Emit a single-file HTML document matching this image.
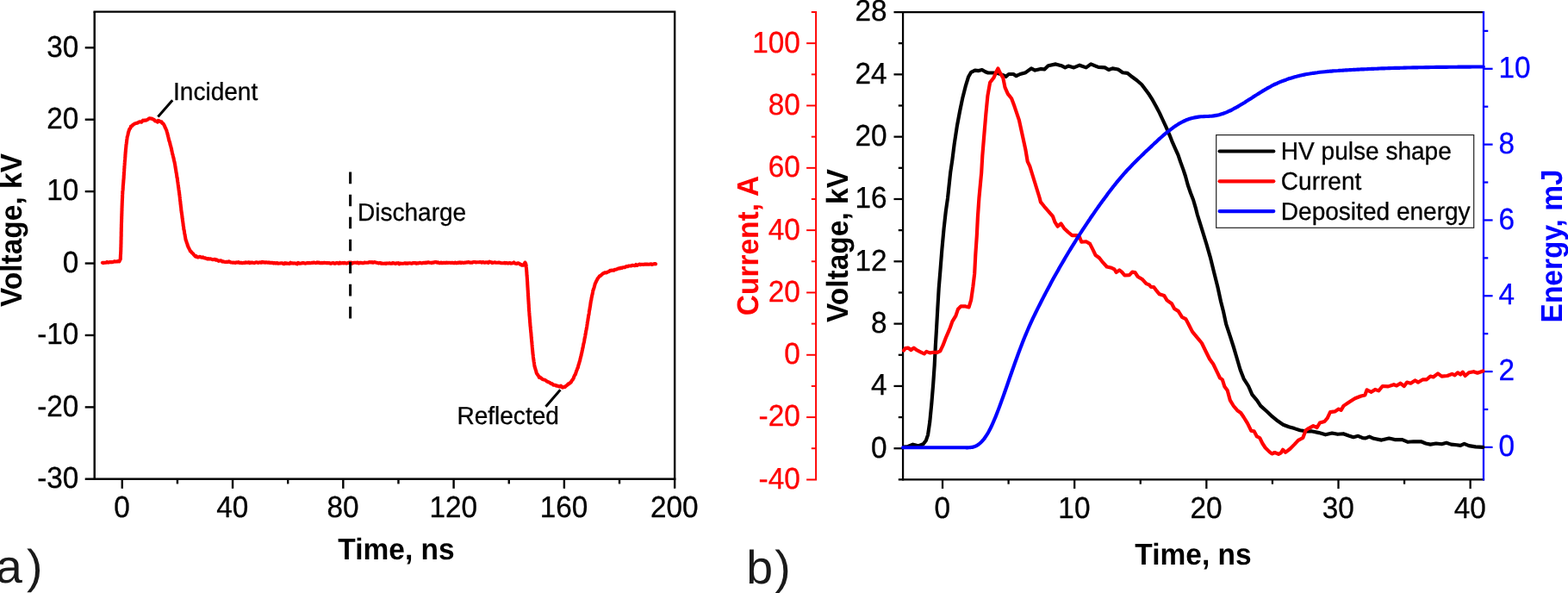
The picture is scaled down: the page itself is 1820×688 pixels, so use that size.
<!DOCTYPE html>
<html lang="en"><head><meta charset="utf-8"><title>Voltage, current and deposited energy waveforms</title>
<style>
html,body{margin:0;padding:0;background:#fff;}
body{width:1820px;height:688px;overflow:hidden;}
svg{display:block;}
text{font-family:"Liberation Sans", sans-serif;text-rendering:geometricPrecision;}
.tk{font-size:33.33px;stroke-width:0.3;stroke-linejoin:round;}
.ti{font-size:33.5px;font-weight:bold;}
.an{font-size:28.05px;stroke-width:0.3;stroke-linejoin:round;}
.pl{font-size:55.5px;fill:#1a1a1a;}
.ax{fill:none;stroke-linecap:butt;}
.cv{fill:none;stroke-linejoin:round;stroke-linecap:round;}
</style></head><body>
<svg width="1820" height="688" viewBox="0 0 1820 688" role="img" aria-label="Voltage, current and deposited energy waveforms">
<rect x="0" y="0" width="1820" height="688" fill="#ffffff"/>
<g id="panel-a">
<polyline class="cv" stroke="#ff0000" stroke-width="4.1" points="118.9,304.8 120.0,305.1 121.1,304.8 122.2,304.8 123.2,304.7 124.3,303.9 125.4,304.6 126.5,304.4 127.6,304.0 128.7,304.1 129.8,304.3 130.9,303.9 132.0,303.7 133.1,303.2 134.1,303.6 135.2,303.4 136.3,303.4 137.4,302.8 138.4,303.4 139.0,302.1 139.6,301.0 139.8,300.7 139.8,298.9 139.9,297.4 139.9,296.6 140.0,294.9 140.1,294.9 140.1,293.3 140.2,292.1 140.2,291.6 140.3,289.6 140.3,289.2 140.3,287.3 140.4,286.6 140.4,285.4 140.4,285.1 140.4,284.1 140.5,282.3 140.5,281.6 140.5,280.2 140.5,279.3 140.6,277.8 140.6,276.4 140.6,275.3 140.6,274.9 140.7,274.3 140.7,272.6 140.7,271.3 140.7,270.9 140.7,269.3 140.8,268.2 140.8,267.1 140.8,265.9 140.8,264.7 140.9,263.3 140.9,262.8 140.9,261.5 140.9,260.8 141.0,259.2 141.0,257.7 141.1,257.1 141.1,256.6 141.1,254.8 141.2,253.6 141.2,252.4 141.2,251.3 141.3,250.5 141.3,249.1 141.3,248.8 141.4,247.2 141.4,246.2 141.4,245.5 141.5,244.4 141.5,242.8 141.5,241.9 141.6,240.9 141.6,239.5 141.7,237.9 141.7,237.6 141.7,236.5 141.8,235.3 141.8,233.8 141.9,232.9 141.9,231.7 142.0,230.7 142.0,230.1 142.1,229.0 142.1,227.7 142.1,226.5 142.2,225.5 142.3,224.2 142.3,223.0 142.4,221.8 142.5,220.9 142.6,220.5 142.7,219.0 142.8,217.5 142.8,216.3 142.9,215.1 143.0,214.4 143.1,213.3 143.2,211.7 143.3,211.2 143.3,209.7 143.4,209.3 143.5,207.8 143.6,207.2 143.7,205.4 143.7,204.3 143.8,203.4 143.9,202.6 143.9,201.3 144.0,199.6 144.1,199.0 144.2,197.8 144.2,196.6 144.3,195.4 144.4,195.1 144.4,193.3 144.5,192.1 144.6,191.5 144.7,190.2 144.7,189.0 144.8,188.2 144.9,187.0 145.0,185.9 145.1,185.0 145.2,183.7 145.3,182.3 145.4,181.3 145.4,180.1 145.5,179.3 145.6,177.8 145.7,176.4 145.8,175.9 145.9,174.4 146.0,173.1 146.1,172.7 146.2,171.3 146.3,170.6 146.4,169.2 146.5,167.9 146.7,166.8 146.8,165.9 147.0,164.9 147.1,163.6 147.2,162.7 147.4,161.2 147.5,160.6 147.7,159.0 147.8,158.4 148.1,157.6 148.4,156.6 148.6,155.8 148.9,153.7 149.2,153.3 149.4,152.4 149.8,151.3 150.3,149.7 150.8,149.2 151.4,148.7 151.9,146.7 152.5,146.4 153.4,146.0 154.3,144.8 155.2,144.5 156.1,143.5 157.2,143.2 158.2,142.9 159.3,142.8 160.2,142.1 161.1,141.8 162.1,141.2 163.2,141.5 164.2,141.6 165.1,140.8 166.0,139.6 167.0,139.9 168.1,139.6 169.2,139.8 170.1,139.2 171.1,139.0 172.1,138.2 173.2,137.4 174.3,137.3 175.3,137.7 176.4,137.6 177.4,138.3 178.3,138.7 179.1,139.1 180.0,140.4 180.9,140.4 181.8,140.6 182.8,141.7 183.7,139.9 184.7,140.2 185.7,140.9 186.6,141.2 187.5,141.2 188.2,142.9 188.9,143.0 189.7,143.8 190.4,145.0 191.0,146.2 191.4,147.1 191.8,148.3 192.3,148.9 192.7,150.0 193.1,150.7 193.5,152.0 193.8,153.3 194.1,154.1 194.4,155.4 194.6,156.1 194.9,157.2 195.2,158.5 195.5,159.5 195.7,160.8 196.0,161.7 196.3,163.3 196.6,163.7 196.9,164.8 197.2,165.6 197.4,167.0 197.7,168.2 198.0,168.9 198.3,170.1 198.6,171.4 198.8,172.2 199.1,173.2 199.3,174.7 199.6,175.5 199.8,176.7 200.1,178.0 200.3,179.1 200.6,179.7 200.8,180.7 201.1,182.0 201.3,183.0 201.6,183.5 201.8,185.5 202.1,186.2 202.3,187.5 202.6,188.0 202.8,189.8 203.0,190.3 203.2,191.6 203.3,192.2 203.5,193.7 203.7,194.8 203.9,195.9 204.1,197.2 204.3,198.1 204.4,199.5 204.6,200.1 204.8,201.1 205.0,202.4 205.2,203.7 205.3,205.0 205.5,206.0 205.7,206.2 205.9,208.0 206.0,209.4 206.2,210.1 206.3,211.0 206.5,212.3 206.6,213.2 206.8,214.6 206.9,215.5 207.1,217.0 207.2,217.8 207.4,218.5 207.5,220.0 207.7,221.2 207.8,221.9 207.9,223.0 208.1,223.5 208.2,225.6 208.4,226.2 208.5,226.8 208.6,228.0 208.8,229.6 208.9,231.0 209.0,231.8 209.1,233.1 209.3,233.7 209.4,234.7 209.5,236.5 209.7,237.5 209.8,238.4 209.9,239.9 210.1,240.3 210.2,241.6 210.3,243.1 210.4,244.5 210.6,245.0 210.7,246.6 210.9,247.0 211.0,248.3 211.2,249.3 211.3,249.9 211.4,251.6 211.6,252.9 211.7,253.7 211.9,254.8 212.0,256.3 212.1,256.6 212.3,257.6 212.4,258.9 212.6,259.9 212.7,261.8 212.9,262.5 213.1,263.2 213.2,264.4 213.4,266.6 213.6,266.6 213.8,267.6 214.0,269.0 214.1,270.2 214.3,271.2 214.5,271.9 214.7,272.9 214.9,274.5 215.1,275.4 215.2,276.0 215.5,278.0 215.8,278.9 216.2,279.6 216.5,280.7 216.8,281.9 217.2,282.6 217.5,283.5 217.8,285.0 218.2,285.5 218.6,287.1 219.1,287.5 219.7,288.9 220.3,289.8 220.8,291.3 221.4,291.4 222.0,292.2 222.7,293.2 223.5,293.8 224.4,294.7 225.2,295.8 226.0,296.6 226.9,297.6 227.9,297.2 229.0,298.5 230.0,298.5 231.1,298.1 232.2,297.7 233.2,298.6 234.3,298.8 235.4,298.3 236.5,299.3 237.6,299.4 238.6,299.4 239.7,300.1 240.8,300.4 241.9,300.1 243.0,300.5 244.1,300.4 245.1,300.5 246.2,301.0 247.3,301.3 248.4,301.1 249.5,300.7 250.6,301.8 251.7,301.4 252.7,302.1 253.8,302.9 254.9,302.5 256.0,302.4 257.0,302.5 258.1,303.6 259.2,303.4 260.3,303.8 261.4,304.0 262.5,303.9 263.6,303.9 264.6,303.9 265.7,303.3 266.8,303.9 267.9,304.5 269.0,304.5 270.1,304.7 271.2,304.6 272.3,304.7 273.4,304.9 274.5,304.4 275.6,304.6 276.7,304.1 277.8,305.0 278.9,304.7 280.0,304.8 281.1,305.2 282.2,305.0 283.3,304.7 284.4,304.9 285.5,304.3 286.6,304.8 287.7,304.7 288.8,304.2 289.9,305.1 291.0,304.5 292.1,304.9 293.2,304.5 294.3,305.0 295.4,305.1 296.5,304.4 297.6,304.2 298.7,304.6 299.8,304.9 300.9,304.5 302.0,304.4 303.1,304.8 304.2,303.8 305.3,304.4 306.4,304.2 307.5,304.7 308.6,304.4 309.7,304.4 310.8,304.7 311.9,304.4 313.0,304.9 314.1,304.7 315.2,304.9 316.3,304.8 317.4,305.4 318.5,305.1 319.6,305.4 320.7,305.4 321.8,305.1 322.9,305.6 324.0,305.5 325.1,305.5 326.2,305.3 327.3,305.3 328.4,305.7 329.5,306.2 330.6,305.2 331.7,305.7 332.8,305.4 333.9,305.8 335.0,305.7 336.1,305.9 337.2,304.7 338.3,305.4 339.4,305.3 340.5,305.6 341.6,305.4 342.7,305.5 343.8,305.9 344.9,306.3 346.0,304.8 347.1,305.5 348.2,305.7 349.3,305.5 350.4,305.4 351.5,305.0 352.6,305.1 353.7,305.5 354.8,305.6 355.9,305.3 357.0,304.9 358.1,305.2 359.2,305.0 360.3,305.2 361.4,305.0 362.5,304.7 363.6,304.9 364.7,304.5 365.8,305.0 366.9,305.1 368.0,304.4 369.1,304.9 370.2,304.5 371.3,305.2 372.4,305.2 373.5,304.9 374.6,305.3 375.7,304.9 376.8,304.9 377.9,305.0 379.0,305.1 380.1,305.1 381.2,305.3 382.3,305.1 383.4,305.6 384.5,305.7 385.6,305.2 386.7,304.9 387.8,305.6 388.9,305.7 390.0,305.3 391.1,304.9 392.2,305.4 393.3,305.8 394.4,304.7 395.5,305.4 396.6,305.2 397.7,305.0 398.8,305.4 399.9,304.8 401.0,305.3 402.1,305.6 403.2,305.3 404.3,304.9 405.4,304.6 406.5,304.8 407.6,304.6 408.7,305.6 409.8,305.0 410.9,304.8 412.0,304.7 413.1,304.7 414.2,304.9 415.3,304.6 416.4,305.5 417.5,304.7 418.6,304.7 419.7,305.0 420.8,305.3 421.9,305.2 423.0,304.6 424.1,304.8 425.1,304.7 426.2,304.8 427.3,304.7 428.4,304.3 429.5,304.1 430.6,304.5 431.7,304.0 432.8,304.8 433.9,304.3 435.0,304.1 436.1,304.5 437.2,304.7 438.3,305.0 439.4,305.5 440.4,305.0 441.5,305.0 442.6,305.8 443.7,305.6 444.8,305.7 445.9,305.8 447.0,305.6 448.1,305.9 449.2,305.4 450.3,305.6 451.4,305.4 452.5,305.3 453.6,305.8 454.7,305.8 455.8,305.0 456.9,305.2 458.0,305.6 459.1,305.9 460.2,305.3 461.3,305.5 462.4,305.1 463.5,306.3 464.6,305.6 465.7,305.8 466.8,305.7 467.9,305.8 469.0,305.6 470.1,305.3 471.2,305.7 472.3,305.4 473.4,305.8 474.5,305.2 475.6,305.2 476.7,305.5 477.8,305.7 478.9,305.3 480.0,305.0 481.1,305.1 482.2,305.0 483.3,305.7 484.4,305.3 485.5,305.4 486.6,305.1 487.7,304.8 488.8,305.3 489.9,305.4 491.0,305.0 492.1,304.8 493.2,305.1 494.3,304.6 495.4,304.9 496.5,304.4 497.6,304.3 498.7,304.8 499.8,304.7 500.9,305.2 502.0,304.6 503.1,304.7 504.2,304.3 505.3,304.1 506.4,304.1 507.5,304.8 508.6,304.3 509.7,305.1 510.8,305.2 511.9,304.6 513.0,305.3 514.1,304.8 515.2,305.1 516.3,304.7 517.4,305.1 518.5,304.5 519.6,305.0 520.7,304.7 521.8,304.8 522.9,305.0 524.0,304.9 525.1,304.8 526.2,305.1 527.3,305.1 528.4,304.5 529.5,305.1 530.6,305.1 531.7,304.6 532.8,304.9 533.9,304.4 535.0,305.2 536.1,304.6 537.2,304.7 538.3,305.0 539.4,304.6 540.5,304.8 541.6,304.2 542.7,304.4 543.8,304.1 544.9,304.4 546.0,304.8 547.1,304.5 548.2,304.6 549.3,304.0 550.4,304.0 551.5,304.1 552.6,304.4 553.7,304.3 554.8,304.2 555.9,304.3 557.0,304.1 558.1,304.1 559.2,304.6 560.3,304.0 561.4,304.3 562.5,304.8 563.6,304.3 564.7,304.5 565.8,304.2 566.9,305.0 568.0,303.7 569.1,304.1 570.2,304.2 571.3,305.0 572.4,304.7 573.5,304.5 574.6,304.3 575.7,304.8 576.8,304.8 577.9,304.7 579.0,304.5 580.1,304.7 581.2,305.2 582.3,305.3 583.4,305.3 584.5,305.3 585.6,304.8 586.6,305.4 587.7,305.0 588.8,305.4 589.9,305.5 591.0,305.1 592.1,305.0 593.2,305.6 594.3,305.4 595.4,305.1 596.5,304.4 597.6,305.4 598.7,305.7 599.8,305.9 600.9,305.3 602.0,305.4 603.0,306.0 603.9,307.0 604.9,306.9 605.8,307.8 606.8,307.5 607.9,307.6 608.4,306.1 608.9,305.7 609.4,304.5 609.9,305.3 610.4,306.5 610.6,307.7 610.7,308.0 610.8,309.9 610.9,310.8 611.0,311.7 611.1,313.3 611.2,314.0 611.3,315.5 611.4,316.0 611.4,317.0 611.5,318.7 611.6,320.1 611.7,320.7 611.8,321.9 611.8,322.6 611.9,323.4 612.0,324.9 612.0,326.5 612.1,326.5 612.2,328.1 612.2,328.7 612.3,330.5 612.4,331.8 612.4,332.2 612.5,333.6 612.6,335.2 612.6,335.9 612.7,336.6 612.8,337.7 612.8,338.6 612.9,340.5 613.0,341.2 613.0,342.8 613.1,343.9 613.2,344.5 613.2,345.6 613.3,347.1 613.4,348.0 613.4,349.2 613.5,349.7 613.6,351.6 613.6,352.1 613.7,352.8 613.8,354.4 613.8,355.8 613.9,357.4 614.0,357.8 614.0,358.6 614.1,360.7 614.2,361.2 614.3,362.2 614.4,363.0 614.4,364.1 614.5,366.0 614.6,366.6 614.7,367.6 614.8,368.7 614.9,370.4 615.0,370.8 615.1,372.3 615.1,373.3 615.2,374.4 615.3,375.1 615.4,376.7 615.5,378.1 615.6,378.7 615.7,379.5 615.8,380.5 615.9,382.0 616.0,383.0 616.1,384.1 616.2,385.3 616.3,385.9 616.5,387.7 616.5,388.6 616.6,389.6 616.7,390.8 616.8,392.1 616.9,393.0 617.0,393.8 617.1,395.5 617.2,396.1 617.3,397.1 617.4,397.9 617.5,399.5 617.6,400.3 617.7,401.6 617.8,402.9 617.9,403.9 618.0,405.3 618.1,406.2 618.2,407.1 618.3,408.2 618.4,409.2 618.5,410.7 618.7,411.6 618.8,412.5 618.9,414.0 619.0,414.9 619.1,415.8 619.3,416.6 619.5,418.2 619.6,419.3 619.8,420.3 620.0,421.2 620.1,422.2 620.3,423.5 620.4,424.7 620.7,425.7 621.0,426.7 621.3,427.7 621.7,429.0 622.0,430.0 622.3,430.7 622.6,432.3 623.0,433.3 623.6,434.2 624.2,434.9 624.7,435.8 625.3,436.4 625.9,437.9 626.9,437.6 627.8,438.7 628.8,439.2 629.7,440.1 630.7,440.4 631.7,440.6 632.7,440.9 633.7,441.6 634.7,442.4 635.6,442.8 636.6,443.3 637.6,443.6 638.6,444.3 639.6,445.1 640.6,445.0 641.5,445.8 642.5,446.8 643.6,446.8 644.6,446.9 645.6,447.7 646.6,447.6 647.7,447.9 648.8,448.4 649.9,448.6 651.0,447.6 652.0,448.8 653.0,449.6 654.0,449.3 655.0,449.0 655.9,448.9 656.9,447.7 657.8,447.3 658.7,446.5 659.6,445.3 660.5,445.4 661.3,444.5 662.0,444.0 662.7,443.5 663.4,442.2 664.1,441.1 664.8,440.5 665.3,439.4 665.8,438.7 666.3,436.9 666.8,436.0 667.3,434.8 667.8,434.6 668.2,433.4 668.5,432.2 668.9,431.1 669.3,430.1 669.7,429.0 670.0,428.1 670.4,427.1 670.8,426.6 671.1,425.2 671.4,423.8 671.7,422.8 672.0,422.3 672.3,421.0 672.6,419.9 672.9,419.0 673.2,418.2 673.5,416.3 673.8,415.4 674.1,414.0 674.3,413.6 674.6,412.3 674.8,411.1 675.0,410.0 675.3,409.4 675.5,408.1 675.7,406.9 676.0,406.3 676.2,404.5 676.4,403.4 676.6,403.5 676.9,401.5 677.1,400.4 677.3,399.3 677.5,398.4 677.8,397.6 678.0,396.5 678.2,395.4 678.4,394.0 678.6,392.6 678.8,392.0 679.0,391.3 679.2,390.1 679.4,388.6 679.6,387.9 679.8,386.4 680.0,385.4 680.2,384.0 680.4,383.2 680.6,382.2 680.8,381.1 681.0,380.3 681.1,379.5 681.3,378.3 681.5,376.7 681.7,375.5 681.8,374.4 682.0,373.2 682.2,372.4 682.4,371.5 682.5,370.3 682.7,369.2 682.9,368.1 683.0,367.0 683.2,365.7 683.4,365.4 683.6,364.1 683.8,362.4 683.9,361.3 684.1,360.3 684.3,359.4 684.5,358.7 684.6,357.5 684.8,356.5 685.0,355.4 685.2,354.3 685.3,353.1 685.5,351.9 685.7,350.7 685.9,349.1 686.1,348.5 686.3,348.0 686.5,346.2 686.7,345.1 686.9,344.5 687.1,343.2 687.4,341.9 687.6,341.5 687.8,340.1 688.0,339.1 688.2,337.6 688.5,336.9 688.8,335.8 689.2,334.8 689.5,333.9 689.8,332.8 690.1,331.5 690.4,330.6 690.8,329.0 691.1,328.5 691.6,327.5 692.2,326.2 692.7,325.1 693.2,324.4 693.7,323.1 694.2,322.6 694.9,321.7 695.7,320.6 696.5,320.1 697.3,319.7 698.1,318.9 698.9,318.2 699.9,317.4 700.9,316.9 701.9,316.4 703.0,316.3 704.0,316.4 705.0,315.7 706.0,315.3 707.1,315.0 708.1,313.8 709.2,313.9 710.3,313.6 711.3,313.8 712.4,313.7 713.4,312.7 714.5,312.7 715.6,312.5 716.6,311.9 717.7,311.6 718.8,311.2 719.8,311.4 720.9,310.6 721.9,310.9 723.0,310.3 724.1,310.2 725.1,310.3 726.2,309.4 727.3,309.1 728.4,309.3 729.4,308.6 730.5,308.5 731.6,308.5 732.7,308.4 733.8,307.8 734.9,307.9 736.0,308.1 737.1,308.2 738.1,307.0 739.2,307.9 740.3,307.6 741.4,306.9 742.5,306.6 743.6,307.1 744.7,306.8 745.8,306.8 746.9,307.0 748.0,306.5 749.1,306.6 750.2,306.6 751.3,306.6 752.4,306.8 753.5,306.8 754.6,306.4 755.7,306.2 756.8,307.0 757.9,306.5 759.0,306.4 760.1,306.0 761.0,306.3"/>
<line x1="406.6" y1="199.6" x2="406.6" y2="369.5" stroke="#000" stroke-width="3" stroke-dasharray="13.65 12.38"/>
<line x1="183.4" y1="135.4" x2="200.2" y2="116.2" stroke="#000" stroke-width="3.0"/>
<line x1="633.5" y1="471.8" x2="650.4" y2="452.2" stroke="#000" stroke-width="3.0"/>
<g class="ax" stroke="#000" stroke-width="2.4">
<path d="M108.50 13.60 H783.15 V566.80"/>
<path d="M109.70 13.60 V557.00"/>
<path d="M98.70 555.80 H784.35"/>
<path d="M98.70 55.31 H109.70"/>
<path d="M98.70 138.72 H109.70"/>
<path d="M98.70 222.14 H109.70"/>
<path d="M98.70 305.55 H109.70"/>
<path d="M98.70 388.97 H109.70"/>
<path d="M98.70 472.38 H109.70"/>
<path d="M141.77 555.80 V566.80"/>
<path d="M270.05 555.80 V566.80"/>
<path d="M398.32 555.80 V566.80"/>
<path d="M526.60 555.80 V566.80"/>
<path d="M654.87 555.80 V566.80"/>
<path d="M205.91 555.80 V561.40"/>
<path d="M334.18 555.80 V561.40"/>
<path d="M462.46 555.80 V561.40"/>
<path d="M590.74 555.80 V561.40"/>
<path d="M719.01 555.80 V561.40"/>
</g>
<g class="tk" fill="#000">
<text class="tk" transform="translate(91.30 65.61) scale(1 1.042)" text-anchor="end" stroke="#000">30</text>
<text class="tk" transform="translate(91.30 149.02) scale(1 1.042)" text-anchor="end" stroke="#000">20</text>
<text class="tk" transform="translate(91.30 232.44) scale(1 1.042)" text-anchor="end" stroke="#000">10</text>
<text class="tk" transform="translate(91.30 315.85) scale(1 1.042)" text-anchor="end" stroke="#000">0</text>
<text class="tk" transform="translate(91.30 399.27) scale(1 1.042)" text-anchor="end" stroke="#000">-10</text>
<text class="tk" transform="translate(91.30 482.68) scale(1 1.042)" text-anchor="end" stroke="#000">-20</text>
<text class="tk" transform="translate(91.30 566.10) scale(1 1.042)" text-anchor="end" stroke="#000">-30</text>
<text class="tk" transform="translate(141.47 600.40) scale(1 1.042)" text-anchor="middle" stroke="#000">0</text>
<text class="tk" transform="translate(269.75 600.40) scale(1 1.042)" text-anchor="middle" stroke="#000">40</text>
<text class="tk" transform="translate(398.02 600.40) scale(1 1.042)" text-anchor="middle" stroke="#000">80</text>
<text class="tk" transform="translate(526.30 600.40) scale(1 1.042)" text-anchor="middle" stroke="#000">120</text>
<text class="tk" transform="translate(654.57 600.40) scale(1 1.042)" text-anchor="middle" stroke="#000">160</text>
<text class="tk" transform="translate(782.85 600.40) scale(1 1.042)" text-anchor="middle" stroke="#000">200</text>
</g>
<text class="ti" transform="translate(460.00 649.10) scale(1 1.045)" text-anchor="middle">Time, ns</text>
<text class="ti" transform="translate(25.00 267.00) rotate(-90) scale(1 1.045)" text-anchor="middle">Voltage, kV</text>
<text class="an" transform="translate(201.00 116.00) scale(1 1.03)" stroke="#000">Incident</text>
<text class="an" transform="translate(414.90 256.10) scale(1 1.03)" stroke="#000">Discharge</text>
<text class="an" transform="translate(530.40 492.30) scale(1 1.03)" stroke="#000">Reflected</text>
<text class="pl" transform="translate(-5.00 675.80) scale(1 0.98)">a<tspan dx="5.0">)</tspan></text>
</g>
<g id="panel-b">
<g class="ax" stroke="#000" stroke-width="2.25">
<path d="M1037.47 14.04 H1721.97"/>
<path d="M1048.07 14.04 V557.52"/>
<path d="M1042.77 556.40 H1723.10"/>
<path d="M1037.47 520.24 H1048.07"/>
<path d="M1037.47 447.93 H1048.07"/>
<path d="M1037.47 375.61 H1048.07"/>
<path d="M1037.47 303.30 H1048.07"/>
<path d="M1037.47 230.98 H1048.07"/>
<path d="M1037.47 158.67 H1048.07"/>
<path d="M1037.47 86.35 H1048.07"/>
<path d="M1042.77 484.09 H1048.07"/>
<path d="M1042.77 411.77 H1048.07"/>
<path d="M1042.77 339.46 H1048.07"/>
<path d="M1042.77 267.14 H1048.07"/>
<path d="M1042.77 194.83 H1048.07"/>
<path d="M1042.77 122.51 H1048.07"/>
<path d="M1042.77 50.20 H1048.07"/>
<path d="M1094.02 556.40 V567.00"/>
<path d="M1247.18 556.40 V567.00"/>
<path d="M1400.34 556.40 V567.00"/>
<path d="M1553.50 556.40 V567.00"/>
<path d="M1706.65 556.40 V567.00"/>
<path d="M1170.60 556.40 V561.70"/>
<path d="M1323.76 556.40 V561.70"/>
<path d="M1476.92 556.40 V561.70"/>
<path d="M1630.07 556.40 V561.70"/>
</g>
<g class="ax" stroke="#0000ff" stroke-width="2.25">
<path d="M1721.97 12.91 V557.52"/>
<path d="M1721.97 518.90 H1732.57"/>
<path d="M1721.97 431.08 H1732.57"/>
<path d="M1721.97 343.26 H1732.57"/>
<path d="M1721.97 255.44 H1732.57"/>
<path d="M1721.97 167.62 H1732.57"/>
<path d="M1721.97 79.80 H1732.57"/>
<path d="M1721.97 474.99 H1727.27"/>
<path d="M1721.97 387.17 H1727.27"/>
<path d="M1721.97 299.35 H1727.27"/>
<path d="M1721.97 211.53 H1727.27"/>
<path d="M1721.97 123.71 H1727.27"/>
<path d="M1721.97 35.89 H1727.27"/>
</g>
<g class="ax" stroke="#ff0000" stroke-width="1.95">
<path d="M941.80 14.04 H947.10 V556.40 H936.10"/>
<path d="M936.10 484.09 H947.10"/>
<path d="M936.10 411.77 H947.10"/>
<path d="M936.10 339.46 H947.10"/>
<path d="M936.10 267.14 H947.10"/>
<path d="M936.10 194.83 H947.10"/>
<path d="M936.10 122.51 H947.10"/>
<path d="M936.10 50.20 H947.10"/>
<path d="M941.80 520.24 H947.10"/>
<path d="M941.80 447.93 H947.10"/>
<path d="M941.80 375.61 H947.10"/>
<path d="M941.80 303.30 H947.10"/>
<path d="M941.80 230.98 H947.10"/>
<path d="M941.80 158.67 H947.10"/>
<path d="M941.80 86.35 H947.10"/>
</g>
<polyline class="cv" stroke="#000" stroke-width="4.15" points="1049.0,518.5 1054.0,518.0 1059.6,515.7 1064.0,516.8 1067.0,517.0 1071.6,515.2 1074.9,510.9 1077.1,504.3 1079.3,489.1 1081.4,467.2 1083.2,445.4 1084.7,423.6 1085.8,401.8 1087.1,380.0 1088.4,356.5 1089.7,334.7 1091.5,312.9 1093.4,288.9 1095.6,264.9 1097.8,245.3 1100.0,230.0 1103.2,200.0 1105.4,185.2 1107.6,167.8 1110.9,146.0 1114.2,128.5 1117.4,113.2 1120.7,100.2 1124.0,89.3 1127.2,83.8 1131.6,81.6 1136.0,82.1 1139.9,81.0 1143.6,83.2 1146.9,84.5 1153.4,84.5 1158.9,85.3 1164.3,87.1 1167.6,88.8 1170.9,86.0 1176.3,86.0 1179.6,88.2 1184.0,86.0 1190.5,84.2 1197.0,79.4 1201.4,81.6 1207.9,79.9 1212.3,80.5 1216.7,76.2 1225.4,74.4 1231.9,76.2 1236.3,78.4 1240.0,76.6 1246.5,78.4 1253.1,75.7 1260.7,78.4 1266.2,74.4 1274.9,77.9 1282.5,78.4 1286.9,81.0 1291.3,79.4 1297.8,80.5 1303.2,84.2 1308.7,84.9 1314.2,89.3 1319.6,93.2 1325.1,98.0 1330.0,104.6 1333.9,109.8 1337.9,116.2 1341.8,123.2 1345.7,130.6 1349.6,139.0 1353.6,147.6 1357.5,156.6 1360.9,165.2 1364.1,172.4 1367.4,179.7 1370.2,187.9 1373.4,196.6 1376.0,204.5 1378.7,214.5 1381.9,223.7 1385.1,232.0 1387.7,240.8 1389.8,249.0 1394.9,265.4 1400.3,282.9 1404.7,298.1 1409.0,315.6 1413.4,333.0 1417.1,350.0 1419.9,360.9 1423.2,376.2 1427.6,389.3 1431.8,402.5 1435.5,415.0 1439.6,429.0 1443.6,439.3 1449.1,448.0 1453.4,457.8 1458.9,464.3 1463.2,470.9 1469.8,476.8 1476.3,482.9 1482.9,488.3 1489.4,492.7 1496.0,495.3 1502.5,497.1 1509.0,499.2 1515.6,500.3 1522.1,500.3 1530.9,502.1 1538.5,504.3 1546.1,502.5 1552.7,503.8 1559.2,503.2 1565.5,505.5 1570.9,507.2 1576.4,505.8 1581.8,508.2 1585.1,508.4 1589.5,506.6 1594.5,508.8 1603.6,510.6 1612.3,508.6 1618.9,510.1 1627.6,510.1 1634.2,512.8 1640.7,512.3 1649.4,512.3 1654.9,514.5 1660.3,515.6 1666.9,514.5 1673.4,515.2 1678.9,513.8 1684.3,515.6 1690.9,516.2 1695.2,516.9 1699.6,514.9 1705.0,517.1 1712.7,518.4 1721.4,518.9"/>
<polyline class="cv" stroke="#ff0000" stroke-width="4.15" points="1049.0,406.6 1050.9,404.0 1054.2,403.6 1057.4,406.2 1060.7,403.6 1064.0,406.2 1068.4,408.4 1072.7,410.5 1075.3,407.9 1079.3,409.4 1083.6,408.8 1088.0,408.8 1091.3,407.3 1094.5,400.7 1097.8,392.0 1101.1,384.4 1102.9,380.0 1105.4,372.9 1109.4,366.3 1112.0,358.7 1115.2,355.4 1120.7,355.4 1124.6,356.5 1127.2,347.8 1129.4,332.5 1131.2,317.2 1132.3,295.4 1133.8,273.6 1134.9,251.8 1136.4,230.0 1139.2,200.0 1140.3,180.9 1142.1,159.0 1144.3,132.9 1146.4,111.1 1149.1,95.8 1153.4,90.3 1156.7,82.7 1158.4,79.4 1161.0,84.9 1164.3,90.3 1166.5,101.3 1169.8,108.9 1174.1,114.3 1177.4,123.1 1182.9,139.4 1187.2,159.0 1190.5,174.3 1192.7,187.4 1195.3,192.9 1197.5,200.0 1206.8,230.0 1207.9,234.4 1212.3,239.8 1216.7,244.8 1222.1,251.2 1224.3,257.3 1227.6,262.7 1231.5,259.4 1235.2,264.9 1240.0,269.5 1244.4,273.1 1249.8,273.1 1253.1,275.2 1255.3,280.7 1260.7,280.3 1265.1,282.9 1268.4,289.4 1271.6,296.0 1276.0,299.2 1280.3,304.7 1284.7,309.5 1290.2,310.8 1293.4,312.3 1295.6,316.0 1299.3,313.4 1302.2,315.6 1305.4,319.5 1310.9,319.1 1314.2,315.6 1317.4,316.0 1320.7,321.0 1326.2,324.3 1330.5,329.1 1333.8,330.4 1336.0,333.0 1339.2,333.0 1342.5,337.4 1345.8,341.3 1351.2,342.9 1354.5,348.3 1357.5,350.5 1360.0,352.2 1363.2,358.3 1367.6,360.9 1372.0,367.9 1376.3,370.1 1379.6,376.2 1384.0,384.9 1389.4,391.4 1394.9,398.0 1399.5,407.5 1404.0,416.5 1408.3,422.5 1412.7,431.7 1416.0,438.5 1418.8,440.4 1421.4,448.6 1424.7,453.0 1427.8,464.4 1431.8,471.0 1436.2,476.2 1440.2,479.0 1443.6,484.0 1448.0,491.2 1452.3,499.9 1455.6,500.3 1458.9,506.4 1462.2,508.0 1465.4,514.5 1468.7,519.5 1473.1,523.9 1476.3,526.5 1479.6,525.0 1484.0,526.9 1486.8,525.4 1489.0,521.7 1492.0,524.8 1497.1,521.0 1502.5,515.6 1506.9,510.8 1512.3,508.0 1515.6,499.2 1518.9,497.1 1524.3,494.2 1528.7,496.0 1532.0,490.5 1537.4,489.0 1540.7,485.1 1544.0,478.1 1549.4,477.4 1553.8,474.6 1556.6,475.9 1559.5,470.9 1566.0,466.5 1572.7,462.2 1579.8,459.5 1584.3,458.5 1586.6,452.3 1591.7,454.8 1596.1,451.9 1600.2,453.4 1604.7,448.0 1611.3,448.4 1617.8,446.2 1621.1,447.5 1625.4,444.7 1629.8,448.0 1633.1,443.6 1637.4,444.7 1642.4,441.4 1646.2,443.6 1651.6,440.3 1656.0,440.3 1660.3,436.6 1663.6,437.5 1669.0,433.4 1673.4,436.6 1680.0,436.0 1685.4,433.8 1688.7,435.3 1692.0,432.3 1695.2,434.5 1697.8,431.6 1700.7,436.0 1705.0,432.3 1710.5,431.2 1714.9,432.7 1721.4,430.5"/>
<path class="cv" stroke="#0000ff" stroke-width="4.15" d="M1048.1 519.2 C1059.8 519.2 1105.8 519.2 1118.0 519.2 C1130.2 519.2 1120.0 519.2 1121.0 519.3 C1122.0 519.3 1123.0 519.3 1124.0 519.3 C1125.0 519.2 1126.0 519.2 1127.0 519.0 C1128.0 518.9 1129.0 518.7 1130.0 518.4 C1131.0 518.1 1132.0 517.8 1133.0 517.3 C1134.0 516.8 1135.0 516.2 1136.0 515.5 C1137.0 514.7 1138.0 513.9 1139.0 512.9 C1140.0 511.9 1141.0 510.8 1142.0 509.5 C1143.0 508.2 1144.0 506.8 1145.0 505.2 C1146.0 503.7 1147.0 502.0 1148.0 500.1 C1149.0 498.3 1150.0 496.3 1151.0 494.1 C1152.0 492.0 1153.0 489.7 1154.0 487.3 C1155.0 485.0 1156.0 482.5 1157.0 479.9 C1158.0 477.4 1159.0 474.8 1160.0 472.1 C1161.0 469.4 1162.0 466.7 1163.0 463.9 C1164.0 461.2 1165.0 458.3 1166.0 455.5 C1167.0 452.7 1168.0 449.8 1169.0 447.0 C1170.0 444.1 1171.0 441.2 1172.0 438.3 C1173.0 435.5 1174.0 432.6 1175.0 429.7 C1176.0 426.9 1177.0 424.1 1178.0 421.3 C1179.0 418.5 1180.0 415.7 1181.0 413.0 C1182.0 410.2 1183.0 407.6 1184.0 404.9 C1185.0 402.3 1186.0 399.7 1187.0 397.1 C1188.0 394.6 1189.0 392.1 1190.0 389.6 C1191.0 387.2 1192.0 384.8 1193.0 382.5 C1194.0 380.2 1195.0 377.9 1196.0 375.7 C1197.0 373.5 1198.0 371.4 1199.0 369.2 C1200.0 367.1 1201.0 365.1 1202.0 363.0 C1203.0 361.0 1204.0 359.0 1205.0 356.9 C1206.0 354.9 1207.0 353.0 1208.0 351.0 C1209.0 349.0 1210.0 347.1 1211.0 345.1 C1212.0 343.2 1213.0 341.3 1214.0 339.4 C1215.0 337.5 1216.0 335.6 1217.0 333.7 C1218.0 331.8 1219.0 330.0 1220.0 328.1 C1221.0 326.3 1222.0 324.4 1223.0 322.6 C1224.0 320.8 1225.0 319.0 1226.0 317.2 C1227.0 315.5 1228.0 313.7 1229.0 311.9 C1230.0 310.2 1231.0 308.4 1232.0 306.7 C1233.0 305.0 1234.0 303.3 1235.0 301.6 C1236.0 299.9 1237.0 298.2 1238.0 296.5 C1239.0 294.8 1240.0 293.2 1241.0 291.5 C1242.0 289.9 1243.0 288.3 1244.0 286.6 C1245.0 285.0 1246.0 283.4 1247.0 281.8 C1248.0 280.2 1249.0 278.6 1250.0 277.0 C1251.0 275.5 1252.0 273.9 1253.0 272.3 C1254.0 270.8 1255.0 269.2 1256.0 267.7 C1257.0 266.2 1258.0 264.6 1259.0 263.1 C1260.0 261.6 1261.0 260.1 1262.0 258.6 C1263.0 257.1 1264.0 255.6 1265.0 254.2 C1266.0 252.7 1267.0 251.2 1268.0 249.8 C1269.0 248.3 1270.0 246.9 1271.0 245.4 C1272.0 244.0 1273.0 242.6 1274.0 241.1 C1275.0 239.7 1276.0 238.3 1277.0 236.9 C1278.0 235.5 1279.0 234.1 1280.0 232.8 C1281.0 231.4 1282.0 230.0 1283.0 228.7 C1284.0 227.3 1285.0 226.0 1286.0 224.6 C1287.0 223.3 1288.0 222.0 1289.0 220.7 C1290.0 219.4 1291.0 218.1 1292.0 216.8 C1293.0 215.6 1294.0 214.3 1295.0 213.1 C1296.0 211.8 1297.0 210.6 1298.0 209.4 C1299.0 208.2 1300.0 207.0 1301.0 205.8 C1302.0 204.7 1303.0 203.5 1304.0 202.4 C1305.0 201.3 1306.0 200.1 1307.0 199.0 C1308.0 197.9 1309.0 196.8 1310.0 195.8 C1311.0 194.7 1312.0 193.7 1313.0 192.6 C1314.0 191.6 1315.0 190.5 1316.0 189.5 C1317.0 188.5 1318.0 187.5 1319.0 186.5 C1320.0 185.5 1321.0 184.5 1322.0 183.5 C1323.0 182.6 1324.0 181.6 1325.0 180.6 C1326.0 179.6 1327.0 178.7 1328.0 177.7 C1329.0 176.8 1330.0 175.8 1331.0 174.9 C1332.0 173.9 1333.0 173.0 1334.0 172.1 C1335.0 171.1 1336.0 170.2 1337.0 169.2 C1338.0 168.3 1339.0 167.4 1340.0 166.4 C1341.0 165.5 1342.0 164.6 1343.0 163.7 C1344.0 162.8 1345.0 161.8 1346.0 160.9 C1347.0 160.1 1348.0 159.2 1349.0 158.3 C1350.0 157.4 1351.0 156.5 1352.0 155.7 C1353.0 154.9 1354.0 154.0 1355.0 153.2 C1356.0 152.4 1357.0 151.6 1358.0 150.8 C1359.0 150.0 1360.0 149.3 1361.0 148.6 C1362.0 147.8 1363.0 147.1 1364.0 146.4 C1365.0 145.8 1366.0 145.1 1367.0 144.5 C1368.0 143.8 1369.0 143.2 1370.0 142.7 C1371.0 142.1 1372.0 141.6 1373.0 141.1 C1374.0 140.6 1375.0 140.1 1376.0 139.7 C1377.0 139.2 1378.0 138.8 1379.0 138.5 C1380.0 138.1 1381.0 137.8 1382.0 137.5 C1383.0 137.2 1384.0 136.9 1385.0 136.7 C1386.0 136.5 1387.0 136.3 1388.0 136.1 C1389.0 135.9 1390.0 135.7 1391.0 135.6 C1392.0 135.5 1393.0 135.4 1394.0 135.3 C1395.0 135.2 1396.0 135.1 1397.0 135.1 C1398.0 135.0 1399.0 135.0 1400.0 135.0 C1401.0 134.9 1402.0 134.9 1403.0 134.9 C1404.0 134.8 1405.0 134.8 1406.0 134.7 C1407.0 134.6 1408.0 134.5 1409.0 134.4 C1410.0 134.3 1411.0 134.1 1412.0 133.9 C1413.0 133.7 1414.0 133.4 1415.0 133.2 C1416.0 132.9 1417.0 132.6 1418.0 132.3 C1419.0 132.0 1420.0 131.6 1421.0 131.2 C1422.0 130.9 1423.0 130.5 1424.0 130.1 C1425.0 129.6 1426.0 129.2 1427.0 128.7 C1428.0 128.3 1429.0 127.8 1430.0 127.3 C1431.0 126.8 1432.0 126.2 1433.0 125.7 C1434.0 125.2 1435.0 124.6 1436.0 124.1 C1437.0 123.5 1438.0 122.9 1439.0 122.3 C1440.0 121.7 1441.0 121.1 1442.0 120.5 C1443.0 119.9 1444.0 119.3 1445.0 118.7 C1446.0 118.0 1447.0 117.4 1448.0 116.8 C1449.0 116.2 1450.0 115.5 1451.0 114.9 C1452.0 114.2 1453.0 113.6 1454.0 112.9 C1455.0 112.3 1456.0 111.7 1457.0 111.0 C1458.0 110.4 1459.0 109.8 1460.0 109.1 C1461.0 108.5 1462.0 107.9 1463.0 107.2 C1464.0 106.6 1465.0 106.0 1466.0 105.4 C1467.0 104.8 1468.0 104.2 1469.0 103.6 C1470.0 103.0 1471.0 102.5 1472.0 101.9 C1473.0 101.3 1474.0 100.8 1475.0 100.3 C1476.0 99.7 1477.0 99.2 1478.0 98.7 C1479.0 98.2 1480.0 97.7 1481.0 97.3 C1482.0 96.8 1483.0 96.4 1484.0 95.9 C1485.0 95.5 1486.0 95.1 1487.0 94.6 C1488.0 94.2 1489.0 93.8 1490.0 93.5 C1491.0 93.1 1492.0 92.7 1493.0 92.4 C1494.0 92.0 1495.0 91.7 1496.0 91.3 C1497.0 91.0 1498.0 90.7 1499.0 90.4 C1500.0 90.1 1501.0 89.8 1502.0 89.5 C1503.0 89.2 1504.0 88.9 1505.0 88.7 C1506.0 88.4 1507.0 88.2 1508.0 87.9 C1509.0 87.7 1510.0 87.4 1511.0 87.2 C1512.0 87.0 1513.0 86.8 1514.0 86.6 C1515.0 86.4 1516.0 86.2 1517.0 86.0 C1518.0 85.8 1519.0 85.6 1520.0 85.5 C1521.0 85.3 1522.0 85.1 1523.0 85.0 C1524.0 84.8 1525.0 84.7 1526.0 84.6 C1527.0 84.4 1528.0 84.3 1529.0 84.2 C1530.0 84.0 1531.0 83.9 1532.0 83.8 C1533.0 83.7 1534.0 83.6 1535.0 83.5 C1536.0 83.4 1537.0 83.3 1538.0 83.2 C1539.0 83.1 1540.0 83.0 1541.0 82.9 C1542.0 82.8 1543.0 82.7 1544.0 82.6 C1545.0 82.6 1546.0 82.5 1547.0 82.4 C1548.0 82.3 1549.0 82.3 1550.0 82.2 C1551.0 82.1 1552.0 82.0 1553.0 82.0 C1554.0 81.9 1555.0 81.9 1556.0 81.8 C1557.0 81.7 1558.0 81.7 1559.0 81.6 C1560.0 81.5 1561.0 81.5 1562.0 81.4 C1563.0 81.4 1564.0 81.3 1565.0 81.2 C1566.0 81.2 1567.0 81.1 1568.0 81.1 C1569.0 81.0 1570.0 81.0 1571.0 80.9 C1572.0 80.9 1573.0 80.8 1574.0 80.7 C1575.0 80.7 1576.0 80.6 1577.0 80.6 C1578.0 80.5 1579.0 80.5 1580.0 80.4 C1581.0 80.4 1582.0 80.3 1583.0 80.3 C1584.0 80.3 1585.0 80.2 1586.0 80.2 C1587.0 80.1 1588.0 80.1 1589.0 80.0 C1590.0 80.0 1591.0 79.9 1592.0 79.9 C1593.0 79.9 1594.0 79.8 1595.0 79.8 C1596.0 79.7 1597.0 79.7 1598.0 79.7 C1599.0 79.6 1600.0 79.6 1601.0 79.5 C1602.0 79.5 1603.0 79.5 1604.0 79.4 C1605.0 79.4 1606.0 79.4 1607.0 79.3 C1608.0 79.3 1609.0 79.2 1610.0 79.2 C1611.0 79.2 1612.0 79.1 1613.0 79.1 C1614.0 79.1 1615.0 79.1 1616.0 79.0 C1617.0 79.0 1618.0 79.0 1619.0 78.9 C1620.0 78.9 1621.0 78.9 1622.0 78.8 C1623.0 78.8 1624.0 78.8 1625.0 78.8 C1626.0 78.7 1627.0 78.7 1628.0 78.7 C1629.0 78.7 1630.0 78.6 1631.0 78.6 C1632.0 78.6 1633.0 78.6 1634.0 78.5 C1635.0 78.5 1636.0 78.5 1637.0 78.5 C1638.0 78.4 1639.0 78.4 1640.0 78.4 C1641.0 78.4 1642.0 78.3 1643.0 78.3 C1644.0 78.3 1645.0 78.3 1646.0 78.3 C1647.0 78.2 1648.0 78.2 1649.0 78.2 C1650.0 78.2 1651.0 78.2 1652.0 78.2 C1653.0 78.1 1654.0 78.1 1655.0 78.1 C1656.0 78.1 1657.0 78.1 1658.0 78.1 C1659.0 78.0 1660.0 78.0 1661.0 78.0 C1662.0 78.0 1663.0 78.0 1664.0 78.0 C1665.0 77.9 1666.0 77.9 1667.0 77.9 C1668.0 77.9 1669.0 77.9 1670.0 77.9 C1671.0 77.9 1672.0 77.9 1673.0 77.8 C1674.0 77.8 1675.0 77.8 1676.0 77.8 C1677.0 77.8 1678.0 77.8 1679.0 77.8 C1680.0 77.8 1681.0 77.8 1682.0 77.7 C1683.0 77.7 1684.0 77.7 1685.0 77.7 C1686.0 77.7 1687.0 77.7 1688.0 77.7 C1689.0 77.7 1690.0 77.7 1691.0 77.7 C1692.0 77.7 1693.0 77.6 1694.0 77.6 C1695.0 77.6 1696.0 77.6 1697.0 77.6 C1698.0 77.6 1699.0 77.6 1700.0 77.6 C1701.0 77.6 1702.0 77.6 1703.0 77.6 C1704.0 77.6 1705.0 77.6 1706.0 77.6 C1707.0 77.5 1708.0 77.5 1709.0 77.5 C1710.0 77.5 1711.0 77.5 1712.0 77.5 C1713.0 77.5 1714.0 77.5 1715.0 77.5 C1716.0 77.5 1717.0 77.5 1718.0 77.5 C1719.0 77.5 1720.4 77.5 1721.0 77.5 C1721.6 77.5 1721.7 77.5 1721.8 77.5"/>
<g class="tk" fill="#000">
<text class="tk" transform="translate(1029.50 530.64) scale(1 1.042)" text-anchor="end" stroke="#000">0</text>
<text class="tk" transform="translate(1029.50 458.33) scale(1 1.042)" text-anchor="end" stroke="#000">4</text>
<text class="tk" transform="translate(1029.50 386.01) scale(1 1.042)" text-anchor="end" stroke="#000">8</text>
<text class="tk" transform="translate(1029.50 313.70) scale(1 1.042)" text-anchor="end" stroke="#000">12</text>
<text class="tk" transform="translate(1029.50 241.38) scale(1 1.042)" text-anchor="end" stroke="#000">16</text>
<text class="tk" transform="translate(1029.50 169.07) scale(1 1.042)" text-anchor="end" stroke="#000">20</text>
<text class="tk" transform="translate(1029.50 96.75) scale(1 1.042)" text-anchor="end" stroke="#000">24</text>
<text class="tk" transform="translate(1029.50 24.44) scale(1 1.042)" text-anchor="end" stroke="#000">28</text>
<text class="tk" transform="translate(1093.72 600.60) scale(1 1.042)" text-anchor="middle" stroke="#000">0</text>
<text class="tk" transform="translate(1246.88 600.60) scale(1 1.042)" text-anchor="middle" stroke="#000">10</text>
<text class="tk" transform="translate(1400.04 600.60) scale(1 1.042)" text-anchor="middle" stroke="#000">20</text>
<text class="tk" transform="translate(1553.20 600.60) scale(1 1.042)" text-anchor="middle" stroke="#000">30</text>
<text class="tk" transform="translate(1706.35 600.60) scale(1 1.042)" text-anchor="middle" stroke="#000">40</text>
</g>
<g class="tk" fill="#ff0000">
<text class="tk" transform="translate(928.75 566.80) scale(1 1.042)" text-anchor="end" fill="#ff0000" stroke="#ff0000">-40</text>
<text class="tk" transform="translate(928.75 494.49) scale(1 1.042)" text-anchor="end" fill="#ff0000" stroke="#ff0000">-20</text>
<text class="tk" transform="translate(928.75 422.17) scale(1 1.042)" text-anchor="end" fill="#ff0000" stroke="#ff0000">0</text>
<text class="tk" transform="translate(928.75 349.86) scale(1 1.042)" text-anchor="end" fill="#ff0000" stroke="#ff0000">20</text>
<text class="tk" transform="translate(928.75 277.54) scale(1 1.042)" text-anchor="end" fill="#ff0000" stroke="#ff0000">40</text>
<text class="tk" transform="translate(928.75 205.23) scale(1 1.042)" text-anchor="end" fill="#ff0000" stroke="#ff0000">60</text>
<text class="tk" transform="translate(928.75 132.91) scale(1 1.042)" text-anchor="end" fill="#ff0000" stroke="#ff0000">80</text>
<text class="tk" transform="translate(928.75 60.60) scale(1 1.042)" text-anchor="end" fill="#ff0000" stroke="#ff0000">100</text>
</g>
<g class="tk" fill="#0000ff">
<text class="tk" transform="translate(1739.50 529.10) scale(1 1.042)" fill="#0000ff" stroke="#0000ff">0</text>
<text class="tk" transform="translate(1739.50 441.28) scale(1 1.042)" fill="#0000ff" stroke="#0000ff">2</text>
<text class="tk" transform="translate(1739.50 353.46) scale(1 1.042)" fill="#0000ff" stroke="#0000ff">4</text>
<text class="tk" transform="translate(1739.50 265.64) scale(1 1.042)" fill="#0000ff" stroke="#0000ff">6</text>
<text class="tk" transform="translate(1739.50 177.82) scale(1 1.042)" fill="#0000ff" stroke="#0000ff">8</text>
<text class="tk" transform="translate(1739.50 90.00) scale(1 1.042)" fill="#0000ff" stroke="#0000ff">10</text>
</g>
<text class="ti" transform="translate(1385.00 655.20) scale(1 1.045)" text-anchor="middle">Time, ns</text>
<text class="ti" transform="translate(880.00 285.00) rotate(-90) scale(1 1.045)" text-anchor="middle" fill="#ff0000">Current, A</text>
<text class="ti" transform="translate(984.20 285.00) rotate(-90) scale(1 1.045)" text-anchor="middle">Voltage, kV</text>
<text class="ti" transform="translate(1813.40 285.40) rotate(-90) scale(1 1.045)" text-anchor="middle" fill="#0000ff">Energy, mJ</text>
<rect x="1411.7" y="156.6" width="299.0" height="107.7" fill="#fff" stroke="#222" stroke-width="1.2"/>
<line x1="1415.6" y1="175.5" x2="1478.3" y2="175.5" stroke="#000" stroke-width="4.2" stroke-linecap="round"/>
<text class="an" transform="translate(1486.80 185.00) scale(1 1.03)" stroke="#000">HV pulse shape</text>
<line x1="1415.6" y1="210.3" x2="1478.3" y2="210.3" stroke="#ff0000" stroke-width="4.2" stroke-linecap="round"/>
<text class="an" transform="translate(1486.80 219.70) scale(1 1.03)" stroke="#000">Current</text>
<line x1="1415.6" y1="245.1" x2="1478.3" y2="245.1" stroke="#0000ff" stroke-width="4.2" stroke-linecap="round"/>
<text class="an" transform="translate(1486.80 254.60) scale(1 1.03)" stroke="#000">Deposited energy</text>
<text class="pl" transform="translate(866.30 676.60) scale(1 0.98)">b<tspan dx="2.2">)</tspan></text>
</g>
</svg>
</body></html>
